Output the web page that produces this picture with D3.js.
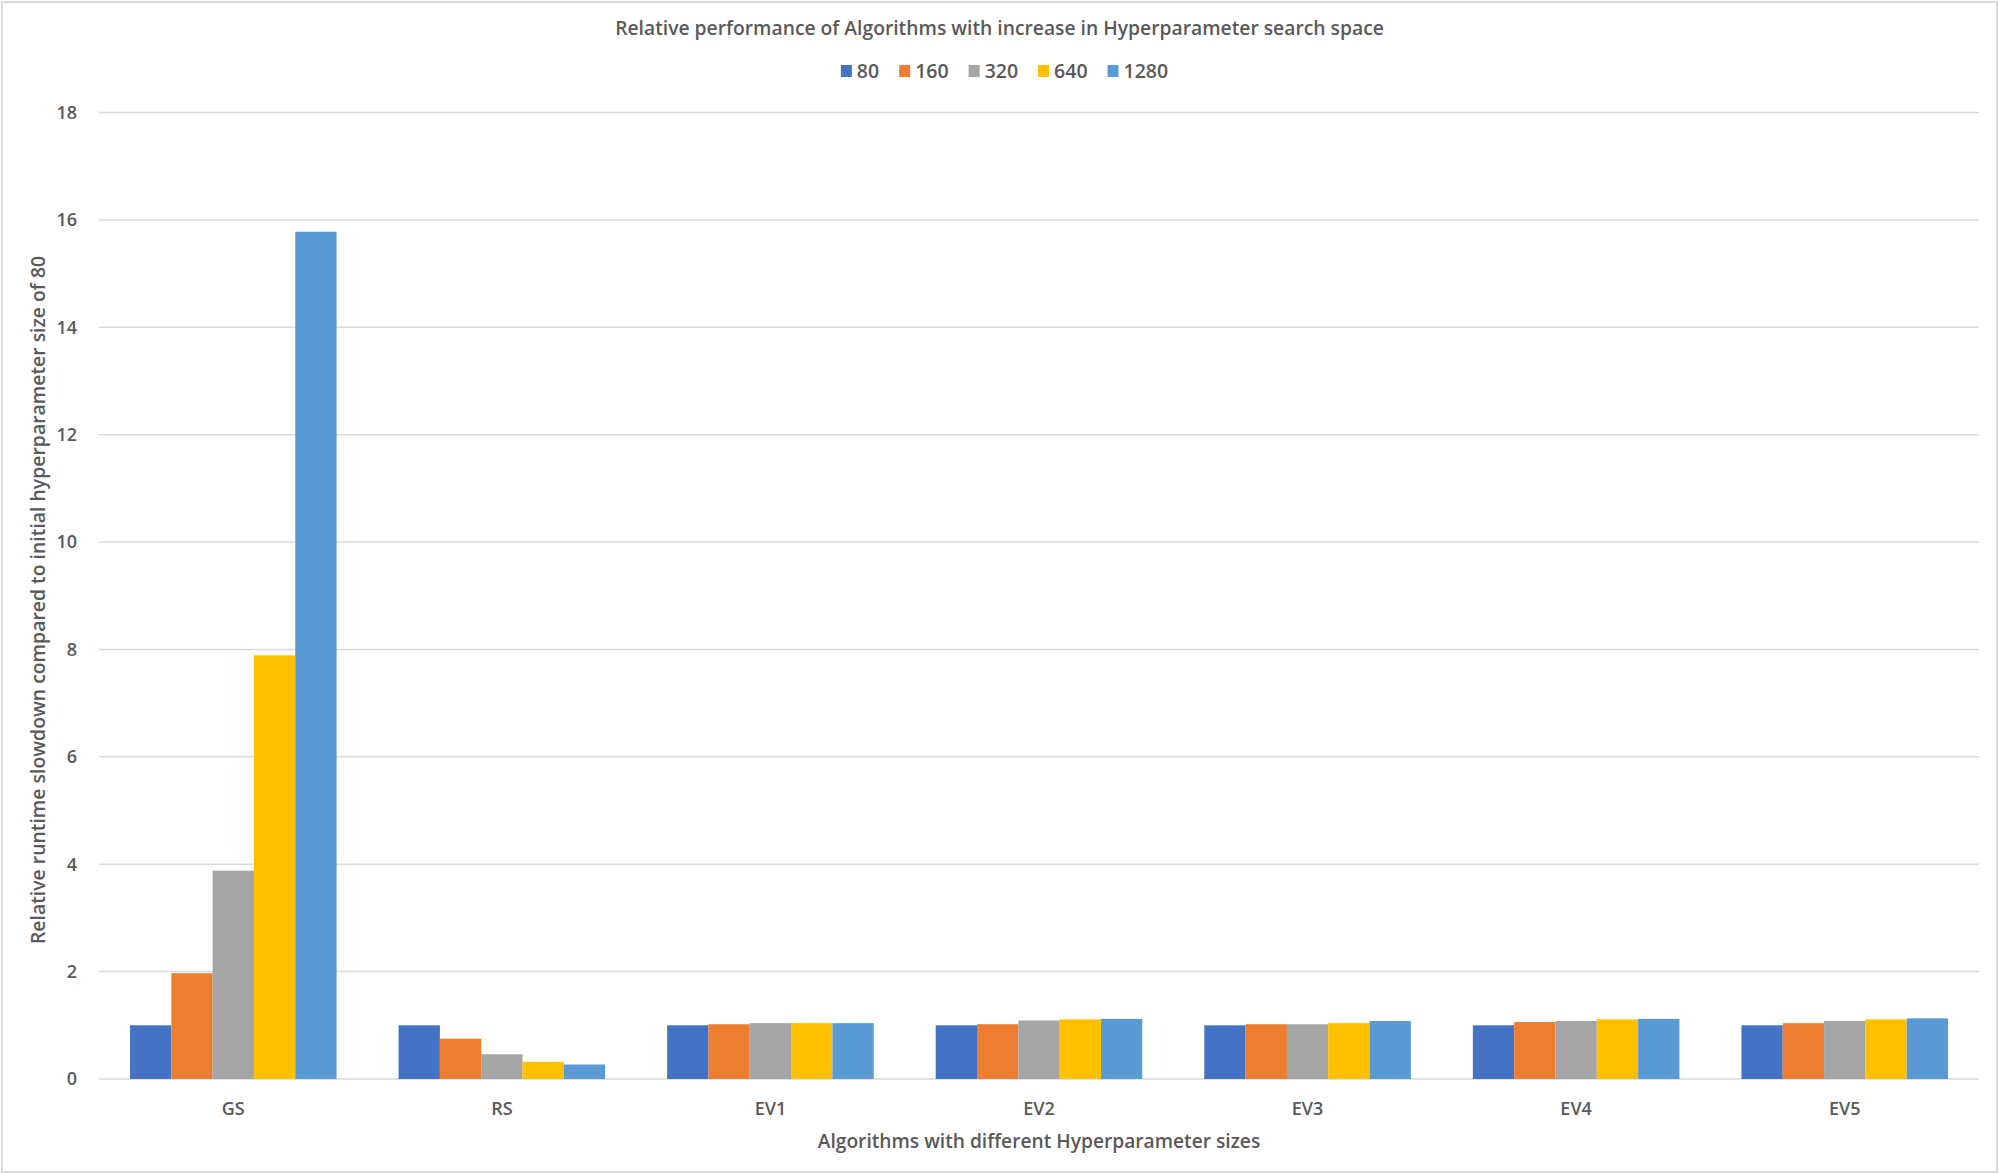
<!DOCTYPE html>
<html>
<head>
<meta charset="utf-8">
<script src="https://cdn.jsdelivr.net/npm/d3@7"></script>
<style>
  html, body { margin: 0; padding: 0; background: #fff; }
  svg text { font-family: "Open Sans", sans-serif; font-weight: 600; fill: #595959; }
</style>
</head>
<body>
<div id="chart"></div>
<script>
var categories = ["GS", "RS", "EV1", "EV2", "EV3", "EV4", "EV5"];
var seriesNames = ["80", "160", "320", "640", "1280"];
var seriesColors = ["#4472C4", "#ED7D31", "#A5A5A5", "#FFC000", "#5B9BD5"];

// one array per series, in category order
var s80   = [1.00, 1.00, 1.00, 1.00, 1.00, 1.00, 1.00];
var s160  = [1.97, 0.75, 1.02, 1.02, 1.02, 1.06, 1.04];
var s320  = [3.88, 0.46, 1.04, 1.09, 1.02, 1.08, 1.08];
var s640  = [7.89, 0.32, 1.04, 1.11, 1.04, 1.11, 1.11];
var s1280 = [15.78, 0.27, 1.04, 1.12, 1.08, 1.12, 1.13];
var seriesValues = [s80, s160, s320, s640, s1280];

var yTicks = [0, 2, 4, 6, 8, 10, 12, 14, 16, 18];

var chartTitle = "Relative performance of Algorithms with increase in Hyperparameter search space";
var xTitle = "Algorithms with different Hyperparameter sizes";
var yTitle = "Relative runtime slowdown compared to initial hyperparameter size of 80";

(function() {
    var W = 1999, H = 1174;
    var plot = { left: 99, right: 1979, top: 112.5, bottom: 1079 };

    var svg = d3.select("#chart").append("svg")
        .attr("width", W)
        .attr("height", H);

    // chart border
    svg.append("rect")
        .attr("x", 2).attr("y", 2)
        .attr("width", W - 4).attr("height", H - 4)
        .attr("fill", "#fff")
        .attr("stroke", "#d9d9d9")
        .attr("stroke-width", 2);

    var y = d3.scaleLinear().domain([0, 18]).range([plot.bottom, plot.top]);
    var x0 = d3.scaleBand().domain(categories).range([plot.left, plot.right]);
    // Excel style gap width of 150%
    var bw = x0.bandwidth() / (seriesNames.length + 1.5);
    var x1 = d3.scaleBand().domain(seriesNames)
        .range([bw * 0.75, x0.bandwidth() - bw * 0.75]);

    // gridlines
    svg.append("g").selectAll("line")
        .data(yTicks)
        .join("line")
        .attr("x1", plot.left).attr("x2", plot.right)
        .attr("y1", function(d) { return y(d); })
        .attr("y2", function(d) { return y(d); })
        .attr("stroke", "#d9d9d9")
        .attr("stroke-width", 1.5);

    // y tick labels
    svg.append("g").selectAll("text")
        .data(yTicks)
        .join("text")
        .attr("x", 77)
        .attr("y", function(d) { return y(d); })
        .attr("dy", "0.35em")
        .attr("text-anchor", "end")
        .attr("font-size", 18)
        .text(function(d) { return d; });

    // bars
    var groups = svg.append("g").selectAll("g")
        .data(categories)
        .join("g")
        .attr("transform", function(d) { return "translate(" + x0(d) + ",0)"; });

    groups.selectAll("rect")
        .data(function(c, ci) {
            return seriesNames.map(function(s, si) {
                return { series: s, color: seriesColors[si], value: seriesValues[si][ci] };
            });
        })
        .join("rect")
        .attr("x", function(d) { return x1(d.series); })
        .attr("width", x1.bandwidth())
        .attr("y", function(d) { return y(d.value); })
        .attr("height", function(d) { return y(0) - y(d.value); })
        .attr("fill", function(d) { return d.color; });

    // category labels
    svg.append("g").selectAll("text")
        .data(categories)
        .join("text")
        .attr("x", function(d) { return x0(d) + x0.bandwidth() / 2; })
        .attr("y", 1109)
        .attr("dy", "0.35em")
        .attr("text-anchor", "middle")
        .attr("font-size", 18)
        .text(function(d) { return d; });

    // titles
    svg.append("text")
        .attr("x", W / 2).attr("y", 28)
        .attr("dy", "0.35em")
        .attr("text-anchor", "middle")
        .attr("font-size", 19.3)
        .text(chartTitle);

    svg.append("text")
        .attr("x", (plot.left + plot.right) / 2).attr("y", 1141)
        .attr("dy", "0.35em")
        .attr("text-anchor", "middle")
        .attr("font-size", 19.2)
        .text(xTitle);

    svg.append("text")
        .attr("transform", "translate(38," + 600 + ") rotate(-90)")
        .attr("dy", "0.35em")
        .attr("text-anchor", "middle")
        .attr("font-size", 19.4)
        .text(yTitle);

    // legend
    var legend = svg.append("g");
    var lx = 0;
    seriesNames.forEach(function(name, i) {
        var item = legend.append("g").attr("transform", "translate(" + lx + ",0)");
        item.append("rect")
            .attr("x", 0).attr("y", -6)
            .attr("width", 11).attr("height", 12)
            .attr("fill", seriesColors[i]);
        var t = item.append("text")
            .attr("x", 16).attr("y", 0)
            .attr("dy", "0.35em")
            .attr("font-size", 19.5)
            .text(name);
        lx += 16 + t.node().getComputedTextLength() + 20;
    });
    var lw = lx - 20;
    legend.attr("transform", "translate(" + (W / 2 + 5 - lw / 2) + ",71)");
})();
</script>
</body>
</html>
